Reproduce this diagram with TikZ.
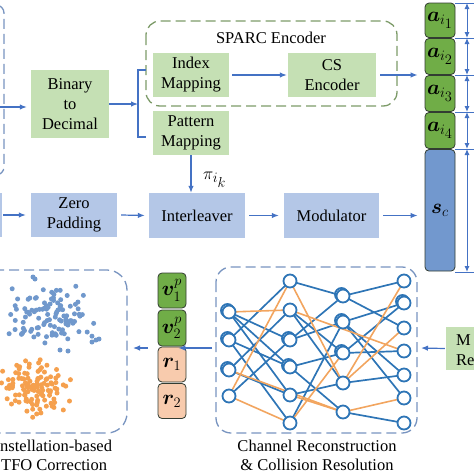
\documentclass[tikz,border=0pt]{standalone}
\usepackage{fontspec}
\setmainfont{Liberation Serif}
\usepackage{amsmath,bm}
\usetikzlibrary{arrows.meta}
\definecolor{lgreen}{RGB}{197,224,180}
\definecolor{lblue}{RGB}{180,199,231}
\definecolor{dgreen}{RGB}{112,173,71}
\definecolor{mblue}{RGB}{114,152,206}
\definecolor{peach}{RGB}{248,203,173}
\definecolor{arrowc}{RGB}{68,114,196}
\definecolor{dashb}{RGB}{120,148,192}
\definecolor{dashg}{RGB}{125,155,105}
\definecolor{netb}{RGB}{46,117,182}
\definecolor{neto}{RGB}{242,165,95}
\definecolor{scb}{RGB}{112,152,204}
\definecolor{sco}{RGB}{245,160,78}
\definecolor{edgec}{RGB}{50,60,50}
\begin{document}
\begin{tikzpicture}[x=1pt,y=-1pt,
  font=\fontsize{16.5}{20}\selectfont,
  gbox/.style={fill=lgreen, align=center, inner sep=0pt},
  bbox/.style={fill=lblue, align=center, inner sep=0pt},
  vecbox/.style={draw=edgec, line width=0.8pt, rounded corners=4pt, minimum width=30pt, inner sep=0pt, font=\fontsize{22}{22}\selectfont},
  smallvec/.style={draw=edgec, line width=0.8pt, rounded corners=4pt, minimum width=28pt, minimum height=35pt, inner sep=0pt, font=\fontsize{21}{21}\selectfont},
  arr/.style={-{Latex[length=7pt,width=5.5pt]}, line width=1.2pt, draw=arrowc},
  plainline/.style={line width=1.2pt, draw=arrowc},
  dimarr/.style={{Latex[length=6pt,width=5pt]}-{Latex[length=6pt,width=5pt]}, line width=1pt, draw=arrowc},
  dashbox/.style={dashed, dash pattern=on 10pt off 5pt, line width=1.3pt},
  nb/.style={draw=netb, line width=1.7pt},
  no/.style={draw=neto, line width=1.6pt},
  nc/.style={draw=netb, line width=1.8pt, fill=white},
]
\useasboundingbox (0,0) rectangle (474,474);
\clip (0,0) rectangle (474,474);

% left partial boxes
\draw[dashbox, draw=dashb, rounded corners=8pt] (-40,5) rectangle (4,175);
\node[bbox, minimum width=20pt, minimum height=44pt] (leftb) at (-8,215) {};

% top row
\node[gbox, minimum width=78pt, minimum height=68pt] (bin) at (70,104) {Binary\\to\\Decimal};
\draw[dashbox, draw=dashg, rounded corners=14pt] (146,21) rectangle (397,106);
\node (sparc) at (271,38) {SPARC Encoder};
\node[gbox, minimum width=76pt, minimum height=44pt] (idx) at (191,75) {Index\\Mapping};
\node[gbox, minimum width=88pt, minimum height=44pt] (cs) at (332,75) {CS\\Encoder};
\node[gbox, minimum width=76pt, minimum height=44pt] (pat) at (191,133) {Pattern\\Mapping};

% second row
\node[bbox, minimum width=86pt, minimum height=44pt] (zero) at (74,215) {Zero\\Padding};
\node[bbox, minimum width=96pt, minimum height=45pt] (inter) at (197,215.5) {Interleaver};
\node[bbox, minimum width=95pt, minimum height=45pt] (mod) at (331.5,215.5) {Modulator};
\node[anchor=west, inner sep=0pt, font=\fontsize{19}{20}\selectfont] (pik) at (203,180) {$\pi_{i_{\scriptstyle k}}$};

% column
\node[vecbox, fill=dgreen, minimum height=34.5pt] (a1) at (440,20.3) {$\bm{a}_{i_{\scriptstyle 1}}$};
\node[vecbox, fill=dgreen, minimum height=36pt] (a2) at (440,56.5) {$\bm{a}_{i_{\scriptstyle 2}}$};
\node[vecbox, fill=dgreen, minimum height=36pt] (a3) at (440,93.5) {$\bm{a}_{i_{\scriptstyle 3}}$};
\node[vecbox, fill=dgreen, minimum height=36pt] (a4) at (440,130.5) {$\bm{a}_{i_{\scriptstyle 4}}$};
\node[vecbox, fill=mblue, minimum height=121.5pt] (sc) at (440,210.3) {$\bm{s}_{c}$};

% dimension marks
\foreach \ya/\yb [count=\k] in {3/38,38/75,75/112,112/149,149/272}{
  \coordinate (dt\k) at (467,\ya);
  \coordinate (db\k) at (467,\yb);
  \draw[dimarr] (dt\k) -- (db\k);
}
\foreach \yy [count=\k] in {3,38,75,112,149,272}{
  \coordinate (tk\k) at (455,\yy);
  \draw[plainline, line width=1pt] (tk\k) -- ++(20,0);
}

% top-row arrows
\coordinate (inA) at (0,107);
\draw[arr] (inA) -- ([xshift=-4pt]inA -| bin.west);
\coordinate (brT) at (146,70);
\coordinate (brB) at (146,137);
\coordinate (brM) at (138,104);
\draw[plainline] (brT) -- (brT -| brM) -- (brB -| brM) -- (brB);
\draw[arr] (bin.east) -- (brM);
\draw[arr] ([xshift=3pt]idx.east) -- ([xshift=-1pt]cs.west);
\draw[arr] ([xshift=4pt]cs.east) -- ([xshift=-7pt]cs.east -| a2.west);
\draw[arr] (pat.south) -- (pat.south |- inter.north);

% second-row arrows
\coordinate (inB) at (3,215);
\draw[arr] (inB) -- ([xshift=-5pt]zero.west);
\draw[arr] ([xshift=4pt]zero.east) -- ([xshift=-4pt]inter.west);
\draw[arr] ([xshift=4pt]inter.east) -- ([xshift=-5pt]mod.west);
\draw[arr] ([xshift=4pt]mod.east) -- ([xshift=-7pt]mod.east -| sc.west);

% bottom: constellation box
\draw[dashbox, draw=dashb, rounded corners=20pt] (-40,270) rectangle (127,433);
\coordinate (cle) at (127,348);
\pgfmathsetseed{11}
\foreach \i in {1,...,105}{
  \pgfmathsetmacro\px{50+24*(rand+rand)}
  \pgfmathsetmacro\py{314+17*(rand+rand)}
  \fill[scb] (\px,\py) circle (2.5pt);
}
\foreach \px/\py in {92/342,96/340,99/339,60/350,68/351,33/277,35/279}{
  \fill[scb] (\px,\py) circle (2.5pt);
}
\foreach \i in {1,...,120}{
  \pgfmathsetmacro\px{34+20*(rand+rand)}
  \pgfmathsetmacro\py{390+17*(rand+rand)}
  \fill[sco] (\px,\py) circle (2.5pt);
}
\node[anchor=west, inner sep=0pt] (cl1) at (0,446) {nstellation-based};
\node[anchor=west, inner sep=0pt] (cl2) at (1,465) {TFO Correction};

% vectors
\node[smallvec, fill=dgreen] (v1) at (172,290.5) {$\bm{v}_1^{p}$};
\node[smallvec, fill=dgreen, minimum height=36pt] (v2) at (172,328) {$\bm{v}_2^{p}$};
\node[smallvec, fill=peach] (r1) at (172,364.5) {$\bm{r}_1$};
\node[smallvec, fill=peach] (r2) at (172,401) {$\bm{r}_2$};

% channel box
\draw[dashbox, draw=dashb, rounded corners=15pt] (216,267) rectangle (417,433);
\coordinate (chw) at (216,348);
\coordinate (che) at (417,348);
\node (ch1) at (317,446) {Channel Reconstruction};
\node (ch2) at (317,465) {\& Collision Resolution};

% M box (clipped)
\node[gbox, minimum width=44pt, minimum height=43pt] (mr) at (468,348.5) {};
\node[anchor=west, align=left, inner sep=0pt] (mrl) at (456,350) {M\\Re};

% bottom arrows
\draw[arr] ([xshift=-1pt]mr.west) -- ([xshift=4pt]che);
\draw[arr] ([xshift=-4pt]chw) -- ([xshift=-8pt]chw -| v2.east);
\draw[arr] ([xshift=-10pt]chw -| v2.west) -- ([xshift=6pt]cle);

% network nodes coordinates
\foreach \n/\xx/\yy in {A1/229/312,A2/229/340,A3/229/370,A4/229/396,
  B1/290/281,B2/290/310,B3/290/340,B4/290/367,B5/290/395,B6/290/423,
  C1/343/296,C2/343/322,C3/343/353,C4/343/383,C5/343/412,
  D1/404/281,D2/404/303,D3/404/328,D4/404/351,D5/404/375,D6/404/398,D7/404/423}{
  \coordinate (\n) at (\xx,\yy);
}
% edges
\foreach \a/\b in {A1/B3,A1/B5,A2/B1,A2/B4,A2/B6,A3/B2,A3/B5,A4/B3,A1/B4,
  B1/C1,B2/C4,B3/C1,B3/C2,B4/C3,B4/C5,B5/C4,B6/C2,B2/C3,
  C1/D1,C1/D3,C2/D2,C2/D6,C3/D2,C3/D4,C4/D5,C5/D7,C2/D5}{
  \draw[nb] (\a) -- (\b);
}
\foreach \a/\b in {A1/B2,B2/D4,B1/A4,A3/C5,A4/B6,B1/C4,B5/C5,B6/C3,C4/D1,C4/D3,C5/D6}{
  \draw[no] (\a) -- (\b);
}
% circles
\foreach \n in {A1,A2,A3,B3,B4,C1,C2,C3,D2}{
  \draw[nc] ([shift={(-1.5,-1.5)}]\n) circle (6.5pt);
}
\foreach \n in {A1,A2,A3,A4,B1,B2,B3,B4,B5,B6,C1,C2,C3,C4,C5,D1,D2,D3,D4,D5,D6,D7}{
  \draw[nc] (\n) circle (6.5pt);
}
\end{tikzpicture}
\end{document}
